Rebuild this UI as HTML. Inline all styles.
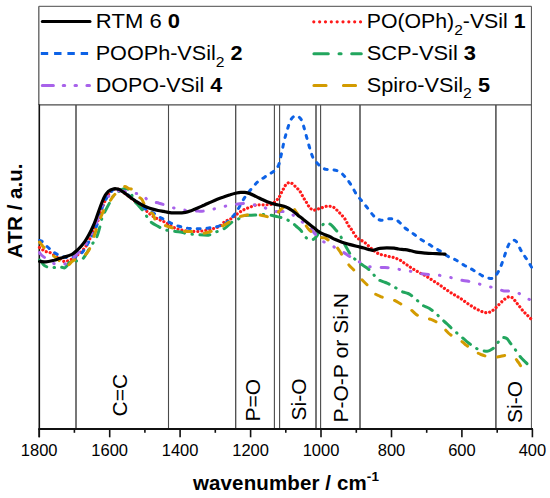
<!DOCTYPE html>
<html><head><meta charset="utf-8"><style>
html,body{margin:0;padding:0;background:#fff;width:550px;height:498px;overflow:hidden}
svg{display:block}
text{font-family:"Liberation Sans",sans-serif;fill:#000;font-kerning:none}
.b{font-weight:bold}
</style></head><body>
<svg width="550" height="498" viewBox="0 0 550 498">
<!-- frame -->
<g fill="none" stroke="#4a4a4a" stroke-width="1">
<line x1="38.8" y1="6.3" x2="531.4" y2="6.3"/>
<line x1="531.4" y1="6.3" x2="531.4" y2="429"/>
<line x1="38.8" y1="6.3" x2="38.8" y2="105" stroke="#666" stroke-width="1.4"/>
<line x1="39" y1="104.8" x2="531.4" y2="104.8" stroke-width="1.3"/>
</g>
<!-- reference lines -->
<g fill="none" stroke="#4a4a4a" stroke-width="1.1">
<line x1="76" y1="105" x2="76" y2="429" stroke-width="1.5"/>
<line x1="168.5" y1="105" x2="168.5" y2="429"/>
<line x1="235.7" y1="105" x2="235.7" y2="429" stroke-width="1.3"/>
<line x1="274.4" y1="105" x2="274.4" y2="429"/>
<line x1="279.6" y1="105" x2="279.6" y2="429"/>
<line x1="316" y1="105" x2="316" y2="429" stroke-width="1.5"/>
<line x1="320.6" y1="105" x2="320.6" y2="429"/>
<line x1="360" y1="105" x2="360" y2="429" stroke-width="1.5"/>
<line x1="495.9" y1="105" x2="495.9" y2="429" stroke-width="1.5"/>
</g>
<!-- axes -->
<g fill="none" stroke="#111" stroke-width="2">
<line x1="39.3" y1="104.5" x2="39.3" y2="437.3" stroke-width="1.6"/>
<line x1="38.3" y1="429" x2="533" y2="429"/>
</g>
<g fill="none" stroke="#111" stroke-width="1.6" id="ticks">
<line x1="39.2" y1="429" x2="39.2" y2="437.3"/>
<line x1="74.4" y1="429" x2="74.4" y2="432.8"/>
<line x1="109.7" y1="429" x2="109.7" y2="437.3"/>
<line x1="144.9" y1="429" x2="144.9" y2="432.8"/>
<line x1="180.1" y1="429" x2="180.1" y2="437.3"/>
<line x1="215.3" y1="429" x2="215.3" y2="432.8"/>
<line x1="250.6" y1="429" x2="250.6" y2="437.3"/>
<line x1="285.8" y1="429" x2="285.8" y2="432.8"/>
<line x1="321.0" y1="429" x2="321.0" y2="437.3"/>
<line x1="356.3" y1="429" x2="356.3" y2="432.8"/>
<line x1="391.5" y1="429" x2="391.5" y2="437.3"/>
<line x1="426.7" y1="429" x2="426.7" y2="432.8"/>
<line x1="461.9" y1="429" x2="461.9" y2="437.3"/>
<line x1="497.2" y1="429" x2="497.2" y2="432.8"/>
<line x1="532.4" y1="429" x2="532.4" y2="437.3"/>
</g>
<!-- tick labels -->
<g font-size="16.5" text-anchor="middle" id="xl">
<text x="39.2" y="455.5">1800</text>
<text x="109.7" y="455.5">1600</text>
<text x="180.1" y="455.5">1400</text>
<text x="250.6" y="455.5">1200</text>
<text x="321" y="455.5">1000</text>
<text x="391.5" y="455.5">800</text>
<text x="461.9" y="455.5">600</text>
<text x="532.4" y="455.5">400</text>
</g>
<text x="193" y="489.5" font-size="20.5" class="b" textLength="186" lengthAdjust="spacing">wavenumber / cm<tspan font-size="13.5" dy="-8.6">-1</tspan></text>
<text transform="translate(22,258.3) rotate(-90)" font-size="21" textLength="94.8" lengthAdjust="spacingAndGlyphs" class="b">ATR / a.u.</text>
<!-- annotations -->
<g font-size="21">
<text transform="translate(127.2,416.5) rotate(-90)">C=C</text>
<text transform="translate(260,421.5) rotate(-90)">P=O</text>
<text transform="translate(306.3,420.5) rotate(-90)">Si-O</text>
<text transform="translate(347.8,422.5) rotate(-90)">P-O-P or Si-N</text>
<text transform="translate(521.5,423) rotate(-90)">Si-O</text>
</g>
<!-- legend -->
<g fill="none" stroke-width="3" stroke-linecap="round">
<line x1="42.3" y1="21.5" x2="90" y2="21.5" stroke="#000"/>
<line x1="40.8" y1="53.6" x2="88.5" y2="53.6" stroke="#0d62e6" stroke-dasharray="7.4 5.9" stroke-linecap="butt"/>
<line x1="42.3" y1="85.6" x2="89.5" y2="85.6" stroke="#a862ea" stroke-dasharray="11.1 9.8 1.5 10.3 1.5 10.4"/>
<line x1="313.8" y1="21.8" x2="361.5" y2="21.8" stroke="#ff1a1a" stroke-dasharray="0.01 5.83" stroke-width="3.2"/>
<line x1="313.9" y1="53.7" x2="361.3" y2="53.7" stroke="#22a65e" stroke-dasharray="14.4 10.7 2.1 10.6"/>
<line x1="313.9" y1="85.6" x2="355.6" y2="85.6" stroke="#d39b00" stroke-dasharray="12.2 17.3"/>
</g>
<g font-size="20">
<text x="95.7" y="28" textLength="84.3" lengthAdjust="spacingAndGlyphs">RTM 6 <tspan class="b">0</tspan></text>
<text x="95.7" y="60" textLength="146.9" lengthAdjust="spacingAndGlyphs">POOPh-VSil<tspan font-size="14.5" dy="6.5">2</tspan><tspan dy="-6.5"> </tspan><tspan class="b">2</tspan></text>
<text x="95.7" y="91.8" textLength="126.6" lengthAdjust="spacingAndGlyphs">DOPO-VSil <tspan class="b">4</tspan></text>
<text x="366.7" y="28" textLength="158.8" lengthAdjust="spacingAndGlyphs">PO(OPh)<tspan font-size="14.5" dy="6.5">2</tspan><tspan dy="-6.5">-VSil </tspan><tspan class="b">1</tspan></text>
<text x="366.7" y="60" textLength="109.3" lengthAdjust="spacingAndGlyphs">SCP-VSil <tspan class="b">3</tspan></text>
<text x="366.7" y="91.8" textLength="123.3" lengthAdjust="spacingAndGlyphs">Spiro-VSil<tspan font-size="14.5" dy="6.5">2</tspan><tspan dy="-6.5"> </tspan><tspan class="b">5</tspan></text>
</g>
<!-- curves -->
<g fill="none" stroke-width="3" stroke-linecap="round" stroke-linejoin="round" id="curves">
<path stroke="#ff1a1a" stroke-linecap="round" stroke-width="3.2" stroke-dasharray="0.01 4.0" d="M39.5,247.5C40.1,247.9 40.6,248.3 41.2,248.7C42.7,249.7 44.1,251.0 45.6,251.5C46.8,251.9 48.0,251.9 49.2,252.3C51.4,253.0 53.5,255.0 55.7,256.3C57.1,257.2 58.6,258.2 60.0,259.0C61.5,259.9 63.0,261.5 64.5,261.5C66.3,261.5 68.2,260.7 70.0,260.0C72.0,259.2 74.0,257.5 76.0,256.0C78.0,254.5 80.0,253.1 82.0,251.0C83.8,249.1 85.7,246.8 87.5,243.7C88.7,241.7 89.8,238.5 91.0,236.0C92.4,233.0 93.8,230.3 95.2,227.2C96.3,224.8 97.4,222.5 98.5,219.4C99.3,217.1 100.2,213.5 101.0,211.0C102.0,208.0 103.0,205.3 104.0,203.0C105.0,200.7 106.0,198.7 107.0,197.0C108.0,195.3 109.0,193.6 110.0,192.5C111.0,191.4 112.0,190.5 113.0,190.0C114.0,189.5 115.0,189.0 116.0,189.0C117.3,189.0 118.7,189.5 120.0,190.0C121.7,190.6 123.3,192.3 125.0,193.5C126.7,194.7 128.3,196.2 130.0,197.5C132.0,199.0 134.0,200.5 136.0,202.0C137.7,203.3 139.3,204.6 141.0,206.0C142.7,207.4 144.3,209.0 146.0,210.5C147.5,211.8 148.9,213.4 150.4,214.5C153.0,216.4 155.5,217.9 158.1,219.2C160.7,220.5 163.2,221.2 165.8,222.5C169.0,224.1 172.1,227.1 175.3,228.2C178.7,229.4 182.1,230.4 185.5,230.7C189.3,231.1 193.1,231.4 196.9,231.4C201.1,231.4 205.4,230.4 209.6,229.5C213.0,228.8 216.4,228.0 219.8,226.3C221.5,225.4 223.3,222.6 225.0,221.5C227.2,220.2 229.3,219.8 231.5,218.5C233.7,217.2 235.9,214.8 238.1,213.3C240.3,211.8 242.4,210.4 244.6,209.4C246.8,208.4 248.9,207.6 251.1,206.8C253.3,206.0 255.4,204.8 257.6,204.8C259.8,204.8 262.0,204.8 264.2,204.8C266.4,204.8 268.5,204.7 270.7,204.5C272.1,204.4 273.4,203.1 274.8,202.0C275.7,201.3 276.6,200.4 277.5,199.3C278.4,198.2 279.4,196.9 280.3,195.2C280.9,194.1 281.5,192.2 282.1,191.1C282.7,190.0 283.3,189.2 283.9,188.2C284.7,186.9 285.4,184.9 286.2,184.3C287.4,183.3 288.6,182.5 289.8,182.5C290.4,182.5 291.0,182.9 291.6,183.2C292.5,183.7 293.5,184.8 294.4,185.6C295.3,186.4 296.2,187.3 297.1,188.2C298.0,189.1 298.9,189.9 299.8,191.1C300.6,192.1 301.3,193.8 302.1,195.2C302.7,196.3 303.3,197.4 303.9,198.4C304.5,199.4 305.1,200.1 305.7,201.1C306.5,202.3 307.2,204.0 308.0,205.2C308.8,206.4 309.5,207.5 310.3,208.2C311.4,209.1 312.4,210.2 313.5,210.2C314.7,210.2 315.9,209.6 317.1,209.3C318.1,209.0 319.0,208.8 320.0,208.5C321.0,208.2 322.1,207.6 323.1,207.3C324.6,206.8 326.0,206.1 327.5,206.1C328.9,206.1 330.4,206.3 331.8,206.5C333.3,206.7 334.7,208.3 336.2,209.5C337.6,210.7 339.1,212.3 340.5,213.8C342.0,215.4 343.4,216.8 344.9,218.9C346.1,220.6 347.3,223.6 348.5,225.5C349.7,227.4 351.0,228.7 352.2,230.5C353.7,232.7 355.3,236.1 356.8,237.5C357.9,238.5 359.1,239.1 360.2,239.8C361.2,240.4 362.2,240.8 363.2,241.4C364.1,242.0 365.1,242.8 366.0,243.6C367.0,244.5 368.1,245.5 369.1,246.4C370.2,247.4 371.4,248.5 372.5,249.5C373.6,250.5 374.8,251.5 375.9,252.2C377.3,253.1 378.6,253.8 380.0,254.3C381.4,254.8 382.7,255.0 384.1,255.3C385.6,255.7 387.1,256.1 388.6,256.4C390.1,256.8 391.7,257.0 393.2,257.4C394.6,257.8 395.9,258.3 397.3,258.8C398.4,259.2 399.4,259.7 400.5,260.3C401.5,260.9 402.6,261.9 403.6,262.6C406.0,264.3 408.5,266.0 410.9,267.6C413.3,269.2 415.8,270.6 418.2,272.0C420.6,273.4 423.1,274.4 425.5,275.8C427.7,277.1 429.8,278.6 432.0,280.0C434.0,281.3 436.0,282.5 438.0,283.8C440.7,285.6 443.3,287.7 446.0,289.5C448.5,291.2 451.0,292.8 453.5,294.3C455.9,295.8 458.2,297.0 460.6,298.5C463.1,300.1 465.7,302.2 468.2,303.9C470.7,305.6 473.3,307.3 475.8,308.6C478.4,309.9 480.9,311.5 483.5,312.1C484.8,312.4 486.0,312.8 487.3,312.8C488.9,312.8 490.4,311.8 492.0,310.9C493.3,310.2 494.6,308.9 495.9,307.7C497.5,306.3 499.0,304.4 500.6,302.9C502.2,301.4 503.8,299.7 505.4,298.7C506.7,297.9 507.9,296.8 509.2,296.8C510.2,296.8 511.1,297.2 512.1,297.6C513.4,298.1 514.6,300.5 515.9,302.0C517.2,303.5 518.4,305.1 519.7,306.7C521.0,308.3 522.2,310.1 523.5,311.5C524.8,312.9 526.1,314.0 527.4,315.3C528.9,316.8 530.5,318.4 532.0,320.0"/>
<path stroke="#0d62e6" stroke-linecap="round" stroke-dasharray="3 6.8" d="M39.5,240.5C40.1,240.7 40.6,240.8 41.2,241.0C43.3,241.9 45.5,245.1 47.6,247.0C49.9,249.0 52.2,251.2 54.5,252.7C56.6,254.1 58.8,255.3 60.9,256.0C62.9,256.7 65.0,257.5 67.0,257.5C69.0,257.5 71.0,257.3 73.0,257.0C74.7,256.8 76.3,256.2 78.0,255.5C79.3,254.9 80.7,253.9 82.0,252.6C83.5,251.2 84.9,248.4 86.4,246.0C87.9,243.6 89.3,241.0 90.8,238.2C91.9,236.1 93.0,234.0 94.1,231.6C95.2,229.2 96.3,227.0 97.4,223.8C98.4,220.8 99.5,215.6 100.5,212.5C102.0,207.9 103.5,204.0 105.0,201.0C106.5,198.0 108.0,195.1 109.5,193.5C111.6,191.2 113.8,188.5 115.9,188.5C117.3,188.5 118.6,189.0 120.0,189.5C121.7,190.1 123.3,191.4 125.0,192.5C126.7,193.6 128.3,195.1 130.0,196.5C132.0,198.1 134.0,199.9 136.0,201.5C137.7,202.9 139.3,204.2 141.0,205.5C142.7,206.8 144.3,208.2 146.0,209.2C148.2,210.5 150.4,211.4 152.6,212.6C155.5,214.2 158.5,216.6 161.4,218.1C162.6,218.7 163.8,219.2 165.0,219.8C166.9,220.8 168.9,222.2 170.8,223.1C173.6,224.4 176.3,225.5 179.1,226.3C182.1,227.1 185.0,227.9 188.0,228.2C191.8,228.5 195.7,228.8 199.5,228.8C203.7,228.8 208.0,228.1 212.2,227.5C216.0,226.9 219.8,226.0 223.6,224.4C225.8,223.5 228.0,221.3 230.2,219.2C231.9,217.6 233.7,215.6 235.4,213.3C236.7,211.5 238.1,209.1 239.4,206.8C241.1,203.9 242.9,200.2 244.6,197.6C246.8,194.3 248.9,191.8 251.1,189.2C253.3,186.6 255.4,183.9 257.6,182.0C259.8,180.1 262.0,178.9 264.2,177.4C265.9,176.3 267.7,175.2 269.4,174.1C270.8,173.2 272.1,172.6 273.5,171.5C274.5,170.7 275.5,169.8 276.5,168.5C277.2,167.7 277.8,166.8 278.5,165.3C279.5,163.1 280.5,157.9 281.5,153.6C282.2,150.6 282.9,146.6 283.6,143.5C284.3,140.3 285.1,137.3 285.8,134.7C286.5,132.1 287.3,129.8 288.0,127.5C288.7,125.2 289.5,122.1 290.2,120.8C291.4,118.7 292.6,117.1 293.8,116.5C294.5,116.1 295.3,115.8 296.0,115.8C297.0,115.8 297.9,116.4 298.9,117.0C299.9,117.6 300.8,118.8 301.8,120.5C302.5,121.8 303.3,125.0 304.0,127.5C304.7,130.0 305.5,132.8 306.2,135.5C306.9,138.2 307.7,140.9 308.4,143.5C309.1,146.0 309.8,148.5 310.5,150.7C311.3,153.2 312.1,156.0 312.9,157.5C313.9,159.3 314.8,160.4 315.8,161.5C317.3,163.2 318.7,164.9 320.2,166.0C322.1,167.4 324.1,169.0 326.0,169.3C328.3,169.6 330.7,169.5 333.0,169.8C334.3,169.9 335.7,170.2 337.0,170.6C338.2,170.9 339.3,171.7 340.5,172.5C342.5,173.8 344.4,176.1 346.4,178.4C348.1,180.4 349.8,182.9 351.5,185.6C353.2,188.2 354.8,192.0 356.5,194.4C358.5,197.2 360.4,199.2 362.4,201.6C364.3,204.0 366.3,206.5 368.2,208.9C370.1,211.3 372.1,214.4 374.0,216.2C375.3,217.5 376.7,218.8 378.0,219.3C379.1,219.7 380.2,220.2 381.3,220.2C382.5,220.2 383.8,219.9 385.0,219.7C386.3,219.5 387.7,218.8 389.0,218.8C390.0,218.8 391.0,218.8 392.0,218.8C393.3,218.8 394.7,219.3 396.0,219.8C397.3,220.3 398.7,221.6 400.0,222.8C401.7,224.2 403.3,226.6 405.0,228.0C406.7,229.4 408.3,230.3 410.0,231.5C411.3,232.4 412.7,233.3 414.0,234.3C416.3,236.0 418.7,238.0 421.0,239.5C423.3,241.0 425.7,242.3 428.0,243.7C430.3,245.1 432.7,246.8 435.0,248.2C437.0,249.4 439.0,250.3 441.0,251.5C443.0,252.7 445.0,254.7 447.0,255.8C449.8,257.4 452.7,258.3 455.5,259.8C458.4,261.4 461.3,263.5 464.2,265.2C467.1,266.9 469.9,268.2 472.8,269.9C475.1,271.2 477.4,272.9 479.7,274.2C482.0,275.5 484.3,277.2 486.6,277.7C488.3,278.1 490.1,278.5 491.8,278.5C493.2,278.5 494.7,276.7 496.1,275.1C497.5,273.5 499.0,270.4 500.4,267.3C501.6,264.7 502.7,261.1 503.9,257.8C505.1,254.5 506.2,250.1 507.4,247.5C508.5,245.0 509.7,242.1 510.8,241.4C512.0,240.7 513.1,240.2 514.3,240.2C515.2,240.2 516.0,241.3 516.9,242.3C518.0,243.6 519.2,247.2 520.3,249.2C521.7,251.8 523.2,253.9 524.6,256.1C525.8,257.9 526.9,259.4 528.1,261.3C529.4,263.4 530.7,265.8 532.0,268.0"/>
<path stroke="#22a65e" stroke-linecap="round" stroke-dasharray="10 7.5 0.5 7.5" d="M39.5,260.0C39.8,260.2 40.1,260.4 40.4,260.7C41.7,261.9 43.1,264.7 44.4,265.5C46.6,266.8 48.7,267.9 50.9,267.9C52.1,267.9 53.3,267.7 54.5,267.5C55.7,267.3 56.9,266.3 58.1,266.3C59.1,266.3 60.0,266.8 61.0,267.0C62.2,267.3 63.3,267.9 64.5,267.9C65.5,267.9 66.5,266.1 67.5,265.0C68.4,264.0 69.2,261.7 70.1,261.5C72.1,261.1 74.0,261.3 76.0,261.0C78.0,260.7 80.0,260.2 82.0,259.2C83.5,258.5 84.9,255.9 86.4,253.7C87.9,251.5 89.3,248.2 90.8,245.9C92.3,243.6 93.8,242.4 95.3,239.8C96.0,238.5 96.8,236.9 97.5,235.0C98.3,233.0 99.0,230.0 99.8,227.2C100.6,224.1 101.5,219.3 102.3,217.0C103.5,213.7 104.7,212.1 105.9,209.8C107.1,207.5 108.3,205.2 109.5,203.0C110.7,200.7 112.0,197.6 113.2,196.2C114.7,194.5 116.2,193.6 117.7,192.5C119.1,191.4 120.6,190.0 122.0,189.5C123.3,189.0 124.7,188.5 126.0,188.5C127.1,188.5 128.3,189.2 129.4,190.0C130.9,191.1 132.3,197.7 133.8,200.0C135.6,202.9 137.5,204.3 139.3,206.5C141.2,208.7 143.0,210.4 144.9,213.1C145.6,214.2 146.4,215.9 147.1,217.0C148.6,219.2 150.0,221.3 151.5,222.5C153.7,224.3 155.9,225.2 158.1,226.4C160.3,227.6 162.5,229.1 164.7,229.7C166.9,230.3 169.2,230.7 171.4,231.0C174.4,231.4 177.4,231.5 180.4,232.0C182.9,232.4 185.5,233.6 188.0,233.9C190.5,234.2 193.1,234.3 195.6,234.5C199.4,234.8 203.3,235.2 207.1,235.2C210.1,235.2 213.0,233.2 216.0,232.0C219.0,230.8 221.9,229.9 224.9,228.2C227.1,226.9 229.3,223.8 231.5,222.4C234.1,220.7 236.8,219.7 239.4,218.5C242.0,217.3 244.6,215.4 247.2,215.3C249.8,215.2 252.4,215.2 255.0,215.1C257.6,215.0 260.3,214.6 262.9,214.6C265.1,214.6 267.2,214.8 269.4,215.0C271.8,215.2 274.2,216.0 276.6,216.5C278.8,217.0 281.1,217.5 283.3,218.2C284.2,218.5 285.1,218.9 286.0,219.3C288.0,220.2 290.1,221.2 292.1,222.6C293.6,223.6 295.0,225.2 296.5,226.5C298.0,227.8 299.4,228.7 300.9,230.4C301.6,231.3 302.4,232.9 303.1,234.0C303.9,235.1 304.6,236.3 305.4,237.0C306.9,238.4 308.3,240.0 309.8,240.0C310.9,240.0 311.9,239.8 313.0,239.5C314.1,239.2 315.3,237.8 316.4,236.5C317.6,235.1 318.8,232.1 320.0,230.0C321.2,227.9 322.4,224.8 323.6,224.0C324.5,223.4 325.5,222.8 326.4,222.8C327.9,222.8 329.5,223.8 331.0,224.7C332.3,225.5 333.7,227.5 335.0,229.0C336.6,230.8 338.2,232.5 339.8,234.9C340.9,236.5 341.9,239.0 343.0,241.0C344.1,243.2 345.3,245.5 346.4,247.5C348.3,250.9 350.3,254.6 352.2,256.7C354.1,258.8 356.1,259.9 358.0,261.5C359.0,262.3 360.0,263.3 361.0,264.0C362.9,265.4 364.8,266.4 366.7,267.8C367.8,268.6 368.9,269.4 370.0,270.5C371.3,271.7 372.5,273.5 373.8,274.9C375.5,276.7 377.2,279.0 378.9,280.0C381.1,281.2 383.3,281.6 385.5,282.5C387.0,283.1 388.5,283.7 390.0,284.5C392.0,285.5 394.0,286.8 396.0,288.0C398.3,289.3 400.7,291.1 403.0,292.0C404.7,292.6 406.4,292.8 408.1,293.5C409.1,293.9 410.1,294.6 411.1,295.3C412.3,296.1 413.5,297.3 414.7,298.3C416.1,299.5 417.6,300.8 419.0,302.0C420.3,303.2 421.7,304.7 423.0,305.5C424.9,306.6 426.7,307.0 428.6,308.0C429.6,308.5 430.6,309.3 431.6,310.0C432.9,310.9 434.2,311.9 435.5,313.0C437.5,314.7 439.5,317.1 441.5,319.0C443.4,320.8 445.3,322.2 447.2,324.0C449.1,325.8 451.0,327.9 452.9,329.6C454.8,331.3 456.7,332.8 458.6,334.4C461.2,336.6 463.7,339.0 466.3,341.1C468.8,343.1 471.4,345.3 473.9,346.8C476.4,348.3 479.0,350.2 481.5,350.6C483.4,350.9 485.4,351.2 487.3,351.2C489.2,351.2 491.1,349.8 493.0,348.5C494.3,347.6 495.5,345.5 496.8,344.0C498.7,341.8 500.6,337.5 502.5,337.5C503.8,337.5 505.1,337.8 506.4,338.2C507.7,338.6 508.9,341.4 510.2,343.0C511.5,344.6 512.7,346.1 514.0,347.8C515.3,349.5 516.5,351.8 517.8,353.5C519.1,355.2 520.3,356.9 521.6,358.3C522.9,359.7 524.2,360.8 525.5,362.1C526.8,363.4 528.0,364.7 529.3,365.9C530.2,366.8 531.1,367.6 532.0,368.5"/>
<path stroke="#a862ea" stroke-linecap="round" stroke-dasharray="7 11 0.5 11 0.5 11" d="M39.5,252.5C39.8,253.0 40.1,253.6 40.4,253.9C42.0,255.8 43.6,256.7 45.2,257.9C46.8,259.1 48.4,260.0 50.0,261.0C51.6,262.0 53.3,263.5 54.9,263.9C56.3,264.3 57.6,264.6 59.0,264.6C60.6,264.6 62.1,264.5 63.7,264.3C65.8,264.1 67.9,262.0 70.0,260.5C72.1,259.0 74.3,256.9 76.4,254.8C79.0,252.2 81.6,249.0 84.2,245.9C85.7,244.1 87.1,242.7 88.6,240.4C90.1,238.1 91.5,234.4 93.0,231.0C94.3,227.9 95.7,224.7 97.0,221.0C98.0,218.3 99.0,214.8 100.0,212.0C101.0,209.2 102.0,205.9 103.0,204.0C104.3,201.6 105.5,200.1 106.8,198.5C107.9,197.2 108.9,195.8 110.0,195.0C112.0,193.6 113.9,192.8 115.9,192.1C117.3,191.6 118.6,190.8 120.0,190.8C121.7,190.8 123.3,191.2 125.0,191.5C126.3,191.7 127.7,192.3 129.0,192.5C130.6,192.8 132.2,193.0 133.8,193.2C136.6,193.6 139.3,193.7 142.1,194.5C144.1,195.1 146.2,199.6 148.2,200.5C150.0,201.3 151.9,201.7 153.7,202.1C155.5,202.5 157.4,202.7 159.2,203.2C161.8,203.8 164.3,205.1 166.9,205.9C170.8,207.1 174.6,208.4 178.5,209.1C181.7,209.7 184.8,210.2 188.0,210.5C191.0,210.7 193.9,210.8 196.9,211.0C198.2,211.1 199.4,211.3 200.7,211.3C203.9,211.3 207.1,210.3 210.3,209.7C214.1,209.0 217.9,208.1 221.7,207.2C225.0,206.4 228.2,205.3 231.5,204.8C233.7,204.5 235.8,204.2 238.0,204.0C240.2,203.8 242.4,203.5 244.6,203.5C247.2,203.5 249.8,203.8 252.4,204.2C253.7,204.4 255.0,205.4 256.3,205.8C258.9,206.5 261.6,206.6 264.2,207.4C265.5,207.8 266.7,209.0 268.0,209.5C270.5,210.5 273.0,211.6 275.5,211.6C279.6,211.6 283.6,211.6 287.7,211.6C289.9,211.6 292.1,214.5 294.3,216.0C295.4,216.7 296.5,217.4 297.6,218.2C299.4,219.5 301.3,221.3 303.1,222.6C304.2,223.4 305.4,223.9 306.5,224.8C308.7,226.5 310.9,229.0 313.1,231.5C314.1,232.6 315.0,233.9 316.0,235.0C317.6,236.8 319.2,238.8 320.8,240.0C322.0,240.9 323.3,241.6 324.5,242.2C326.0,242.9 327.5,243.1 329.0,243.8C330.3,244.4 331.7,245.5 333.0,246.3C335.0,247.5 337.0,248.9 339.0,250.0C340.5,250.9 342.0,251.5 343.5,252.4C345.7,253.7 347.8,255.4 350.0,256.7C351.7,257.7 353.3,258.7 355.0,259.6C356.7,260.6 358.5,261.4 360.2,262.3C362.1,263.3 364.1,264.7 366.0,265.5C367.3,266.0 368.7,266.6 370.0,266.8C372.0,267.1 374.0,267.2 376.0,267.3C378.2,267.4 380.3,267.4 382.5,267.5C385.0,267.6 387.5,267.6 390.0,267.8C392.3,268.0 394.7,268.6 397.0,269.0C399.3,269.4 401.7,269.9 404.0,270.3C406.0,270.6 408.0,270.8 410.0,271.2C411.7,271.5 413.3,272.5 415.0,272.8C416.7,273.1 418.3,273.3 420.0,273.5C422.0,273.8 424.0,274.1 426.0,274.3C428.0,274.5 430.0,274.7 432.0,274.8C433.7,274.9 435.3,274.9 437.0,275.0C439.0,275.1 441.0,275.6 443.0,276.0C445.0,276.4 447.0,276.8 449.0,277.2C451.5,277.7 454.0,278.2 456.5,278.8C457.9,279.1 459.3,279.7 460.7,280.0C463.3,280.6 465.9,280.7 468.5,281.3C469.7,281.6 470.8,282.2 472.0,282.5C474.9,283.3 477.7,283.7 480.6,284.4C482.4,284.8 484.2,285.3 486.0,285.8C487.9,286.3 489.9,286.7 491.8,287.3C493.2,287.7 494.6,288.4 496.0,288.8C497.5,289.3 499.0,289.6 500.5,290.0C501.7,290.3 502.8,291.0 504.0,291.0C505.3,291.0 506.7,291.0 508.0,291.0C509.4,291.0 510.9,291.0 512.3,291.0C514.2,291.0 516.1,292.2 518.0,293.0C519.9,293.8 521.8,294.9 523.7,296.0C525.6,297.1 527.6,298.5 529.5,299.6C530.3,300.1 531.2,300.5 532.0,301.0"/>
<path stroke="#d39b00" stroke-linecap="round" stroke-dasharray="7.2 12.8" d="M39.5,242.0C40.6,243.4 41.7,244.9 42.8,246.2C45.2,248.9 47.6,251.6 50.0,253.5C51.4,254.6 52.7,255.3 54.1,256.3C55.6,257.4 57.0,258.6 58.5,260.0C59.7,261.1 60.8,262.9 62.0,264.0C63.0,265.0 64.0,266.5 65.0,266.5C66.2,266.5 67.3,265.7 68.5,265.0C69.7,264.3 70.8,262.3 72.0,261.5C73.3,260.5 74.7,259.8 76.0,259.3C77.3,258.8 78.7,258.7 80.0,258.3C81.0,258.0 82.0,257.6 83.0,257.0C84.0,256.4 85.0,255.1 86.0,254.0C87.0,252.9 88.0,251.8 89.0,250.0C89.8,248.5 90.7,245.8 91.5,243.5C92.2,241.6 92.8,239.4 93.5,237.5C94.3,235.1 95.2,232.9 96.0,230.5C97.2,227.2 98.3,223.5 99.5,220.5C101.0,216.5 102.6,212.5 104.1,209.8C105.6,207.2 107.1,205.7 108.6,203.5C110.1,201.2 111.7,198.0 113.2,196.2C114.7,194.4 116.2,193.4 117.7,192.0C119.2,190.5 120.8,188.3 122.3,187.5C123.2,187.0 124.1,186.5 125.0,186.5C126.2,186.5 127.4,188.2 128.6,188.5C129.5,188.7 130.5,188.7 131.4,189.0C132.9,189.4 134.4,194.2 135.9,195.5C137.8,197.2 139.7,197.1 141.6,199.0C142.6,200.0 143.5,202.9 144.5,205.0C145.4,206.9 146.2,210.2 147.1,211.0C149.1,212.8 151.0,212.2 153.0,214.0C153.8,214.8 154.7,219.7 155.5,220.5C157.0,222.0 158.5,222.2 160.0,223.0C161.7,223.9 163.3,224.9 165.0,225.5C167.1,226.3 169.3,226.8 171.4,227.5C173.1,228.1 174.8,229.0 176.5,229.5C179.9,230.4 183.3,231.5 186.7,231.5C188.8,231.5 190.9,231.5 193.0,231.5C195.6,231.5 198.1,233.5 200.7,233.5C203.3,233.5 205.8,232.8 208.4,232.2C211.4,231.5 214.3,230.1 217.3,228.8C220.2,227.5 223.1,225.7 226.0,224.0C228.3,222.7 230.5,221.1 232.8,220.0C235.9,218.5 238.9,216.6 242.0,216.0C245.5,215.3 248.9,214.6 252.4,214.6C254.3,214.6 256.1,214.7 258.0,214.8C260.1,214.9 262.1,215.5 264.2,215.9C266.1,216.3 268.1,217.0 270.0,217.0C271.3,217.0 272.7,216.5 274.0,216.0C276.0,215.3 277.9,212.4 279.9,210.5C280.7,209.8 281.4,208.9 282.2,208.3C283.7,207.2 285.1,205.5 286.6,205.5C288.4,205.5 290.3,206.2 292.1,207.0C293.6,207.7 295.0,210.5 296.5,212.5C298.0,214.5 299.4,217.6 300.9,219.3C301.6,220.2 302.4,220.7 303.1,221.5C305.0,223.6 306.8,227.2 308.7,229.3C309.8,230.5 310.9,231.4 312.0,232.5C313.3,233.7 314.5,235.6 315.8,236.2C317.2,236.9 318.6,237.3 320.0,237.5C321.5,237.7 323.0,237.6 324.5,237.8C326.0,238.0 327.5,239.6 329.0,240.5C330.7,241.5 332.3,242.2 334.0,243.6C335.7,245.0 337.3,247.8 339.0,250.2C341.0,253.0 342.9,256.8 344.9,259.6C346.6,262.0 348.3,264.3 350.0,266.2C351.2,267.5 352.4,268.5 353.6,269.8C355.1,271.4 356.5,273.3 358.0,275.0C359.4,276.7 360.8,278.5 362.2,280.0C364.4,282.4 366.5,284.0 368.7,286.5C370.4,288.4 372.1,291.9 373.8,293.1C375.4,294.2 376.9,294.8 378.5,295.5C380.1,296.2 381.7,297.0 383.3,297.5C384.9,297.9 386.4,298.1 388.0,298.5C389.8,298.9 391.7,299.3 393.5,300.0C394.8,300.5 396.2,301.3 397.5,302.0C399.0,302.8 400.5,303.8 402.0,304.7C404.6,306.2 407.1,307.1 409.7,308.8C411.1,309.8 412.6,311.3 414.0,312.5C415.4,313.7 416.9,315.1 418.3,315.8C420.4,316.8 422.4,317.2 424.5,317.8C426.7,318.4 428.8,318.7 431.0,319.4C432.9,320.0 434.9,321.1 436.8,322.3C438.0,323.1 439.3,324.4 440.5,325.5C441.8,326.6 443.0,327.5 444.3,328.7C446.2,330.4 448.1,333.0 450.0,334.4C451.6,335.6 453.2,336.3 454.8,337.3C457.4,338.9 459.9,340.1 462.5,342.0C463.7,342.8 464.8,344.1 466.0,345.0C467.4,346.0 468.7,346.9 470.1,347.8C472.3,349.3 474.6,351.3 476.8,352.5C478.2,353.3 479.6,353.9 481.0,354.5C482.5,355.1 483.9,355.6 485.4,356.0C486.9,356.4 488.5,356.8 490.0,357.0C491.3,357.1 492.7,357.3 494.0,357.3C496.0,357.3 498.0,356.8 500.0,356.5C501.8,356.2 503.6,355.4 505.4,355.4C506.9,355.4 508.5,356.1 510.0,356.5C511.7,357.0 513.3,357.3 515.0,358.3C516.2,359.0 517.3,361.0 518.5,362.5C519.5,363.8 520.6,366.3 521.6,366.9C522.9,367.6 524.2,367.9 525.5,368.2C526.8,368.5 528.0,368.5 529.3,368.8C530.2,369.0 531.1,369.3 532.0,369.5"/>
<path stroke="#000000" stroke-linecap="round" stroke-width="3.2" d="M39.5,261.5C41.7,261.6 43.8,261.8 46.0,261.8C48.7,261.8 51.3,260.9 54.0,260.3C56.0,259.8 58.0,258.9 60.0,258.3C62.0,257.7 64.0,257.2 66.0,256.6C68.0,256.0 70.0,255.4 72.0,254.4C73.4,253.7 74.9,252.3 76.3,251.0C77.9,249.6 79.5,248.0 81.1,246.2C82.5,244.6 83.9,242.8 85.3,240.8C86.5,239.1 87.7,237.0 88.9,234.8C90.3,232.3 91.6,229.6 93.0,226.5C94.0,224.3 95.0,221.7 96.0,219.0C96.9,216.7 97.7,213.9 98.6,211.5C99.8,208.1 101.1,204.4 102.3,201.5C103.5,198.7 104.7,195.7 105.9,194.2C107.4,192.2 109.0,190.7 110.5,190.0C112.0,189.3 113.5,188.6 115.0,188.6C116.2,188.6 117.4,189.0 118.6,189.3C119.8,189.7 121.1,190.6 122.3,191.4C123.8,192.3 125.3,193.5 126.8,194.6C128.0,195.5 129.3,196.6 130.5,197.5C132.3,198.9 134.2,200.1 136.0,201.3C137.9,202.5 139.7,203.6 141.6,204.6C143.4,205.6 145.3,206.6 147.1,207.3C148.9,208.0 150.8,208.6 152.6,209.1C154.4,209.6 156.3,210.1 158.1,210.5C160.0,210.9 161.9,211.1 163.8,211.4C165.3,211.7 166.8,212.1 168.3,212.3C169.8,212.5 171.2,212.9 172.7,212.9C174.8,212.9 177.0,212.9 179.1,212.9C181.2,212.9 183.4,212.6 185.5,212.3C187.6,212.0 189.7,211.1 191.8,210.4C193.9,209.7 196.1,208.7 198.2,207.8C200.3,206.9 202.4,205.9 204.5,205.0C206.6,204.0 208.8,203.1 210.9,202.1C213.0,201.1 215.2,200.0 217.3,199.2C219.4,198.4 221.5,197.7 223.6,197.0C225.8,196.2 228.0,195.5 230.2,194.8C231.9,194.2 233.7,193.6 235.4,193.2C237.2,192.8 238.9,192.3 240.7,192.3C242.0,192.3 243.3,192.3 244.6,192.4C246.3,192.5 248.1,193.1 249.8,193.6C252.0,194.3 254.1,195.6 256.3,196.6C258.5,197.6 260.7,198.8 262.9,199.8C265.1,200.8 267.2,201.8 269.4,202.6C271.4,203.3 273.5,203.9 275.5,204.4C277.3,204.8 279.2,205.1 281.0,205.5C282.9,205.9 284.7,206.4 286.6,207.2C288.4,207.9 290.3,209.2 292.1,210.5C293.9,211.8 295.8,213.4 297.6,214.9C299.4,216.4 301.3,217.8 303.1,219.3C305.0,220.8 306.8,222.2 308.7,223.7C310.5,225.2 312.4,226.7 314.2,228.1C316.0,229.5 317.9,231.3 319.7,232.3C321.5,233.3 323.4,234.0 325.2,234.8C326.8,235.5 328.4,236.1 330.0,236.8C331.6,237.5 333.1,238.6 334.7,239.3C337.1,240.4 339.6,241.4 342.0,242.2C344.4,243.0 346.9,243.7 349.3,244.4C351.7,245.1 354.1,245.7 356.5,246.3C358.9,246.9 361.4,247.4 363.8,248.0C365.4,248.4 367.0,249.0 368.6,249.4C370.0,249.7 371.3,250.3 372.7,250.3C373.8,250.3 374.8,249.9 375.9,249.6C377.1,249.3 378.3,248.4 379.5,248.3C381.9,248.0 384.4,247.8 386.8,247.8C389.2,247.8 391.7,248.0 394.1,248.2C395.6,248.3 397.1,248.8 398.6,249.0C400.7,249.3 402.9,249.4 405.0,249.7C407.0,250.0 408.9,250.4 410.9,250.8C413.3,251.3 415.8,252.1 418.2,252.4C420.6,252.7 423.1,252.9 425.5,253.1C427.9,253.3 430.3,253.4 432.7,253.5C435.1,253.6 437.6,253.7 440.0,253.8C441.7,253.9 443.3,254.1 445.0,254.2"/>
</g>
</svg>
</body></html>
